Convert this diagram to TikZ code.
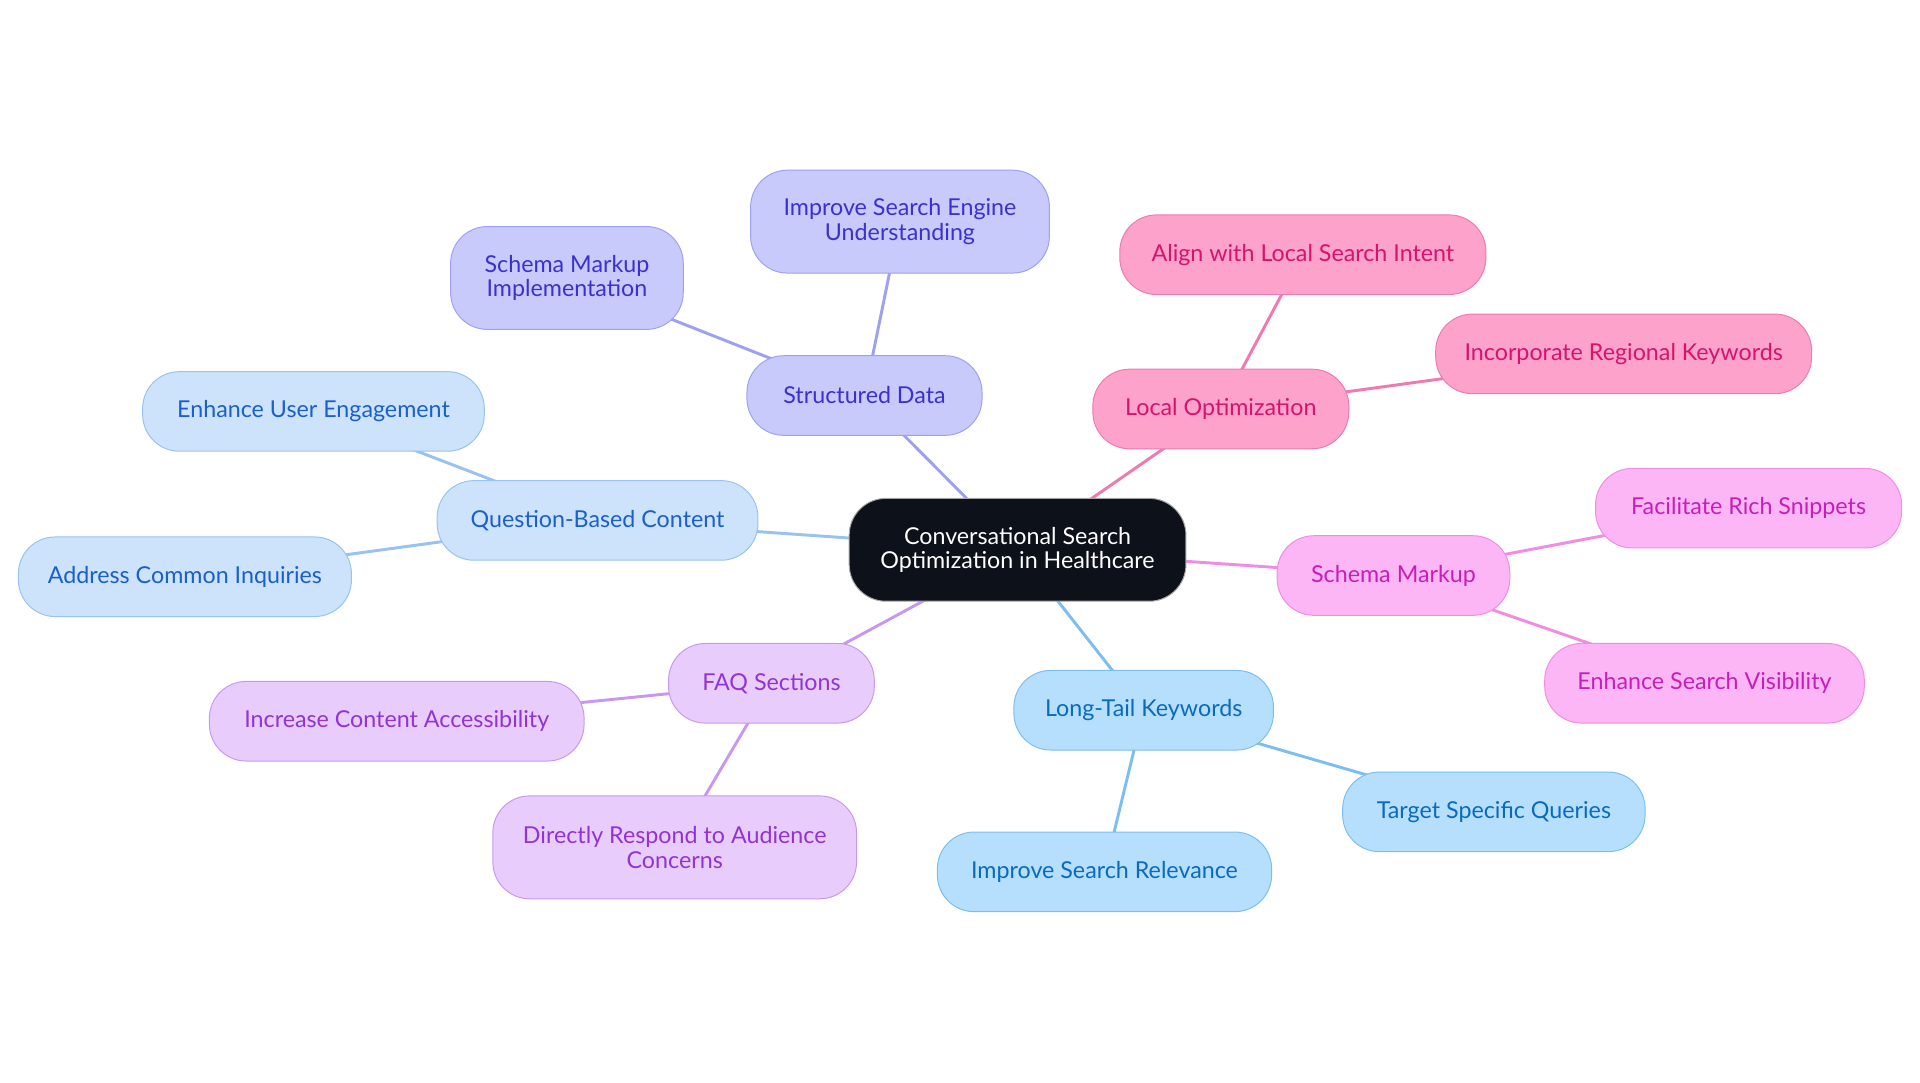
\documentclass[tikz,border=0pt]{standalone}
\usepackage{fontspec}
\setmainfont{Lato}
\usetikzlibrary{arrows,backgrounds}

\definecolor{sdfill}{HTML}{C8CAFC}\definecolor{sdline}{HTML}{9EA0F2}\definecolor{sdtext}{HTML}{3B30D0}
\definecolor{qbfill}{HTML}{CDE3FB}\definecolor{qbline}{HTML}{98C2F0}\definecolor{qbtext}{HTML}{1A5FCC}
\definecolor{faqfill}{HTML}{E8CCFC}\definecolor{faqline}{HTML}{C898F0}\definecolor{faqtext}{HTML}{9233D6}
\definecolor{ltfill}{HTML}{B5DFFC}\definecolor{ltline}{HTML}{7CBEF0}\definecolor{lttext}{HTML}{0A6AC0}
\definecolor{lofill}{HTML}{FCA2CB}\definecolor{loline}{HTML}{EE7AB2}\definecolor{lotext}{HTML}{D6136E}
\definecolor{smfill}{HTML}{FDB6F5}\definecolor{smline}{HTML}{F08CE2}\definecolor{smtext}{HTML}{C71FB5}
\definecolor{rootfill}{HTML}{0C111A}

\begin{document}
\begin{tikzpicture}[x=0.5pt,y=-0.5pt]
\tikzstyle{every node}=[rounded corners=15pt, inner sep=2pt, align=center, font=\fontsize{9.5}{10}\selectfont, minimum height=32.5pt]
\tikzstyle{sd}=[draw=sdline, fill=sdfill, text=sdtext]
\tikzstyle{qb}=[draw=qbline, fill=qbfill, text=qbtext]
\tikzstyle{faq}=[draw=faqline, fill=faqfill, text=faqtext]
\tikzstyle{lt}=[draw=ltline, fill=ltfill, text=lttext]
\tikzstyle{lo}=[draw=loline, fill=lofill, text=lotext]
\tikzstyle{sm}=[draw=smline, fill=smfill, text=smtext]
\tikzstyle{tall}=[minimum height=42pt]
\tikzstyle{edge}=[line width=1.2pt]
\useasboundingbox (0,0) rectangle (1568,884.4);
\draw (831,449) node (root) [draw=gray!70, fill=rootfill, text=white, tall, minimum width=137.5pt] {Conversational Search\\Optimization in Healthcare};
% structured data
\draw (706,323) node (sd) [sd, minimum width=96pt] {Structured Data};
\draw (463,227) node (sd1) [sd, tall, minimum width=95pt] {Schema Markup\\Implementation};
\draw (735,181) node (sd2) [sd, tall, minimum width=122pt] {Improve Search Engine\\Understanding};
% question based
\draw (488,425) node (qb) [qb, minimum width=131pt] {Question-Based Content};
\draw (256,336) node (qb1) [qb, minimum width=139.5pt] {Enhance User Engagement};
\draw (151,471) node (qb2) [qb, minimum width=136pt] {Address Common Inquiries};
% faq
\draw (630,558) node (faq) [faq, minimum width=84pt] {FAQ Sections};
\draw (324,589) node (faq1) [faq, minimum width=153pt] {Increase Content Accessibility};
\draw (551,692) node (faq2) [faq, tall, minimum width=148.5pt] {Directly Respond to Audience\\Concerns};
% long tail
\draw (934,580) node (lt) [lt, minimum width=106pt] {Long-Tail Keywords};
\draw (1220,663) node (lt1) [lt, minimum width=123.5pt] {Target Specific Queries};
\draw (902,712) node (lt2) [lt, minimum width=136.5pt] {Improve Search Relevance};
% local
\draw (997,334) node (lo) [lo, minimum width=104.5pt] {Local Optimization};
\draw (1064,208) node (lo1) [lo, minimum width=149.5pt] {Align with Local Search Intent};
\draw (1326,289) node (lo2) [lo, minimum width=153.5pt] {Incorporate Regional Keywords};
% schema
\draw (1138,470) node (sm) [sm, minimum width=95pt] {Schema Markup};
\draw (1428,415) node (sm1) [sm, minimum width=125pt] {Facilitate Rich Snippets};
\draw (1392,558) node (sm2) [sm, minimum width=130.5pt] {Enhance Search Visibility};
\begin{scope}[on background layer]
\draw [sdline, edge] (root.center) -- (sd.center);
\draw [sdline, edge] (sd.center) -- (sd1.center);
\draw [sdline, edge] (sd.center) -- (sd2.center);
\draw [qbline, edge] (root.center) -- (qb.center);
\draw [qbline, edge] (qb.center) -- (qb1.center);
\draw [qbline, edge] (qb.center) -- (qb2.center);
\draw [faqline, edge] (root.center) -- (faq.center);
\draw [faqline, edge] (faq.center) -- (faq1.center);
\draw [faqline, edge] (faq.center) -- (faq2.center);
\draw [ltline, edge] (root.center) -- (lt.center);
\draw [ltline, edge] (lt.center) -- (lt1.center);
\draw [ltline, edge] (lt.center) -- (lt2.center);
\draw [loline, edge] (root.center) -- (lo.center);
\draw [loline, edge] (lo.center) -- (lo1.center);
\draw [loline, edge] (lo.center) -- (lo2.center);
\draw [smline, edge] (root.center) -- (sm.center);
\draw [smline, edge] (sm.center) -- (sm1.center);
\draw [smline, edge] (sm.center) -- (sm2.center);
\end{scope}
\end{tikzpicture}
\end{document}
